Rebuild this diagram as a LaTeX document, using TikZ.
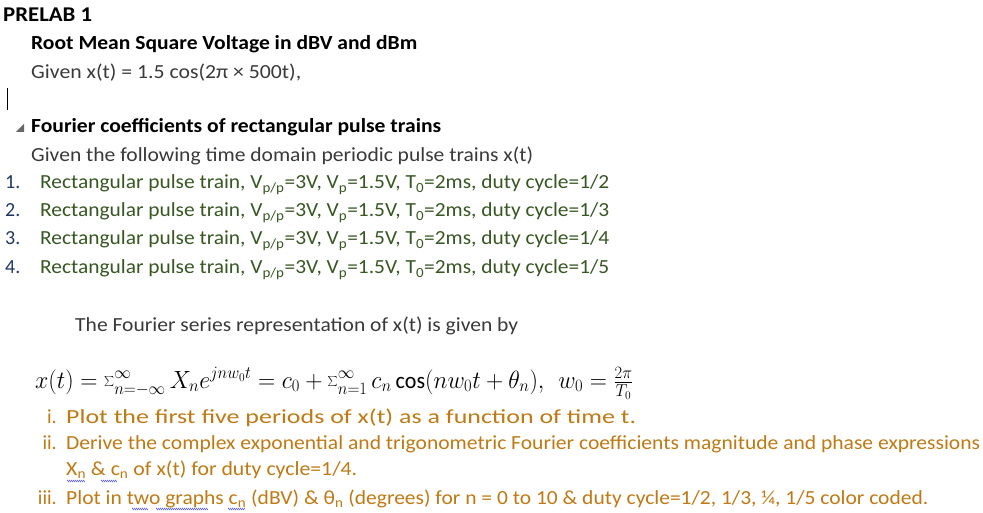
\documentclass[tikz,border=0pt]{standalone}
\usepackage{fontspec}
\usepackage{graphicx}
\setmainfont{Carlito}
\usetikzlibrary{decorations.pathmorphing}
\definecolor{txtgray}{HTML}{3A3A3A}
\definecolor{navy}{HTML}{1F3864}
\definecolor{dgreen}{HTML}{385723}
\definecolor{orng}{HTML}{BF7A14}
\newcommand\fitw[2]{\resizebox{#1pt}{\height}{#2}}
\tikzset{ln/.style={anchor=base west,inner sep=0pt,font=\fontsize{20}{22}\selectfont},
 rn/.style={anchor=base east,inner sep=0pt,text=orng,font=\fontsize{20}{22}\selectfont},
 wav/.style={draw=#1,line width=0.5pt,decorate,decoration={zigzag,amplitude=0.8pt,segment length=2pt}}}
\begin{document}
\begin{tikzpicture}[x=1pt,y=-1pt]
\useasboundingbox[fill=white] (0,0) rectangle (983,513);
\node[ln,font=\fontsize{21}{22}\selectfont\bfseries] (t1) at (3,22) {\fitw{89}{PRELAB 1}};
\node[ln,font=\fontsize{20}{22}\selectfont\bfseries] (t2) at (31,50) {\fitw{386}{Root Mean Square Voltage in dBV and dBm}};
\node[ln,text=txtgray] (t3) at (31,79) {\fitw{270}{Given x(t) = 1.5 cos(2π × 500t),}};
\draw[line width=0.8pt] (7,88) -- (7,110);
\fill[gray!80!black] (16,132) -- (24,124) -- (24,132) -- cycle;
\node[ln,font=\fontsize{20}{22}\selectfont\bfseries] (t4) at (31,133) {\fitw{410}{Fourier coefficients of rectangular pulse trains}};
\node[ln,text=txtgray] (t5) at (31,162) {\fitw{502}{Given the following time domain periodic pulse trains x(t)}};
\foreach \n/\y/\d in {1/189/2,2/217/3,3/245/4,4/274/5}{
 \node[ln,text=navy] (n\n) at (5,\y) {\n.};
 \node[ln,text=dgreen] (l\n) at (40,\y) {\fitw{569}{Rectangular pulse train, V\textsubscript{p/p}=3V, V\textsubscript{p}=1.5V, T\textsubscript{0}=2ms, duty cycle=1/\d}};
}
\node[ln,text=txtgray] (t6) at (75,331) {\fitw{443}{The Fourier series representation of x(t) is given by}};
\node[ln] (eq) at (35,388) {\fitw{598}{\fontsize{23}{24}\selectfont$x(t)=\sum_{n=-\infty}^{\infty}X_n e^{jnw_0t}=c_0+\sum_{n=1}^{\infty}c_n\cos(nw_0t+\theta_n),\ \ w_0=\frac{2\pi}{T_0}$}};
\node[rn] (r1) at (57,423) {i.};
\node[ln,text=orng] (s1) at (66,423) {\fitw{570}{Plot the first five periods of x(t) as a function of time t.}};
\node[rn] (r2) at (57,449) {ii.};
\node[ln,text=orng] (s2) at (66,449) {\fitw{914}{Derive the complex exponential and trigonometric Fourier coefficients magnitude and phase expressions}};
\node[ln,text=orng] (s2b) at (66,475) {\fitw{291}{X\textsubscript{n} \& c\textsubscript{n} of x(t) for duty cycle=1/4.}};
\node[rn] (r3) at (57,504) {iii.};
\node[ln,text=orng] (s3) at (66,504) {\fitw{862}{Plot in two graphs c\textsubscript{n} (dBV) \& θ\textsubscript{n} (degrees) for n = 0 to 10 \& duty cycle=1/2, 1/3, ¼, 1/5 color coded.}};
\draw[wav=blue!60] (67,481) -- (85,481);
\draw[wav=blue!60] (101,481) -- (117,481);
\draw[wav=blue!60] (132,509) -- (148,509);
\draw[wav=blue!60] (156,509) -- (208,509);
\draw[wav=blue!60] (228,509) -- (245,509);
\end{tikzpicture}
\end{document}
